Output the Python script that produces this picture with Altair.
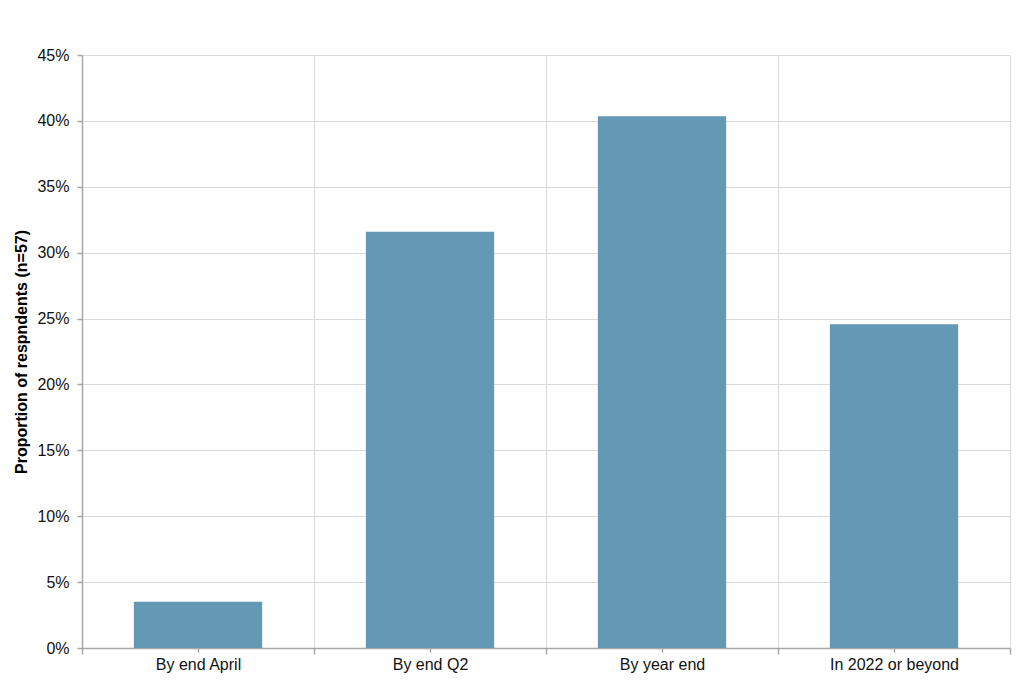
import altair as alt
import pandas as pd

categories = ["By end April", "By end Q2", "By year end", "In 2022 or beyond"]
proportions = [0.0351, 0.3158, 0.4035, 0.2456]
y_ticks = [0, 0.05, 0.10, 0.15, 0.20, 0.25, 0.30, 0.35, 0.40, 0.45]

df = pd.DataFrame({"cat": categories, "p": proportions})

FONT = "Liberation Sans"
x_scale = alt.Scale(paddingInner=0, paddingOuter=0)
y_scale = alt.Scale(domain=[0, 0.45])

bars = alt.Chart(df).mark_bar(color="#6399b4", width=alt.RelativeBandSize(0.553)).encode(
    x=alt.X(
        "cat:N", sort=categories, scale=x_scale,
        axis=alt.Axis(
            title=None, labelAngle=0, tickBand="extent", grid=True,
            gridColor="#dadada", gridWidth=1, orient="bottom",
            domainColor="#a6a6a6", domainWidth=1.5,
            tickColor="#a6a6a6", tickWidth=1.5, tickSize=6,
            labelFontSize=16, labelPadding=2, labelColor="#111111",
            labelFont=FONT,
        ),
    ),
    y=alt.Y(
        "p:Q", scale=y_scale,
        axis=alt.Axis(
            values=y_ticks, format=".0%", title="Proportion of respndents (n=57)",
            titleFont=FONT, titleFontSize=16, titleFontWeight="bold", titleColor="#000000",
            titlePadding=7,
            labelFont=FONT, labelFontSize=16, labelColor="#111111", labelPadding=8,
            grid=True, gridColor="#dadada", gridWidth=1,
            domainColor="#a6a6a6", domainWidth=1.5,
            tickColor="#a6a6a6", tickWidth=1.5, tickSize=5,
        ),
    ),
)

center_ticks = alt.Chart(df).mark_bar(opacity=0).encode(
    x=alt.X(
        "cat:N", sort=categories, scale=x_scale,
        axis=alt.Axis(
            title=None, labels=False, grid=False, domain=False, orient="bottom",
            tickBand="center", tickColor="#a6a6a6", tickWidth=1.5, tickSize=4,
        ),
    ),
    y=alt.Y("p:Q", scale=y_scale, axis=None),
)

chart = (
    alt.layer(bars, center_ticks)
    .resolve_axis(x="independent", y="independent")
    .properties(
        width=928, height=593,
        autosize=alt.AutoSizeParams(type="none"),
        padding={"left": 74, "top": 47, "right": 6, "bottom": 30},
    )
    .configure_view(stroke=None)
)

chart.save("out.html", embed_options={"renderer": "svg", "actions": False})
